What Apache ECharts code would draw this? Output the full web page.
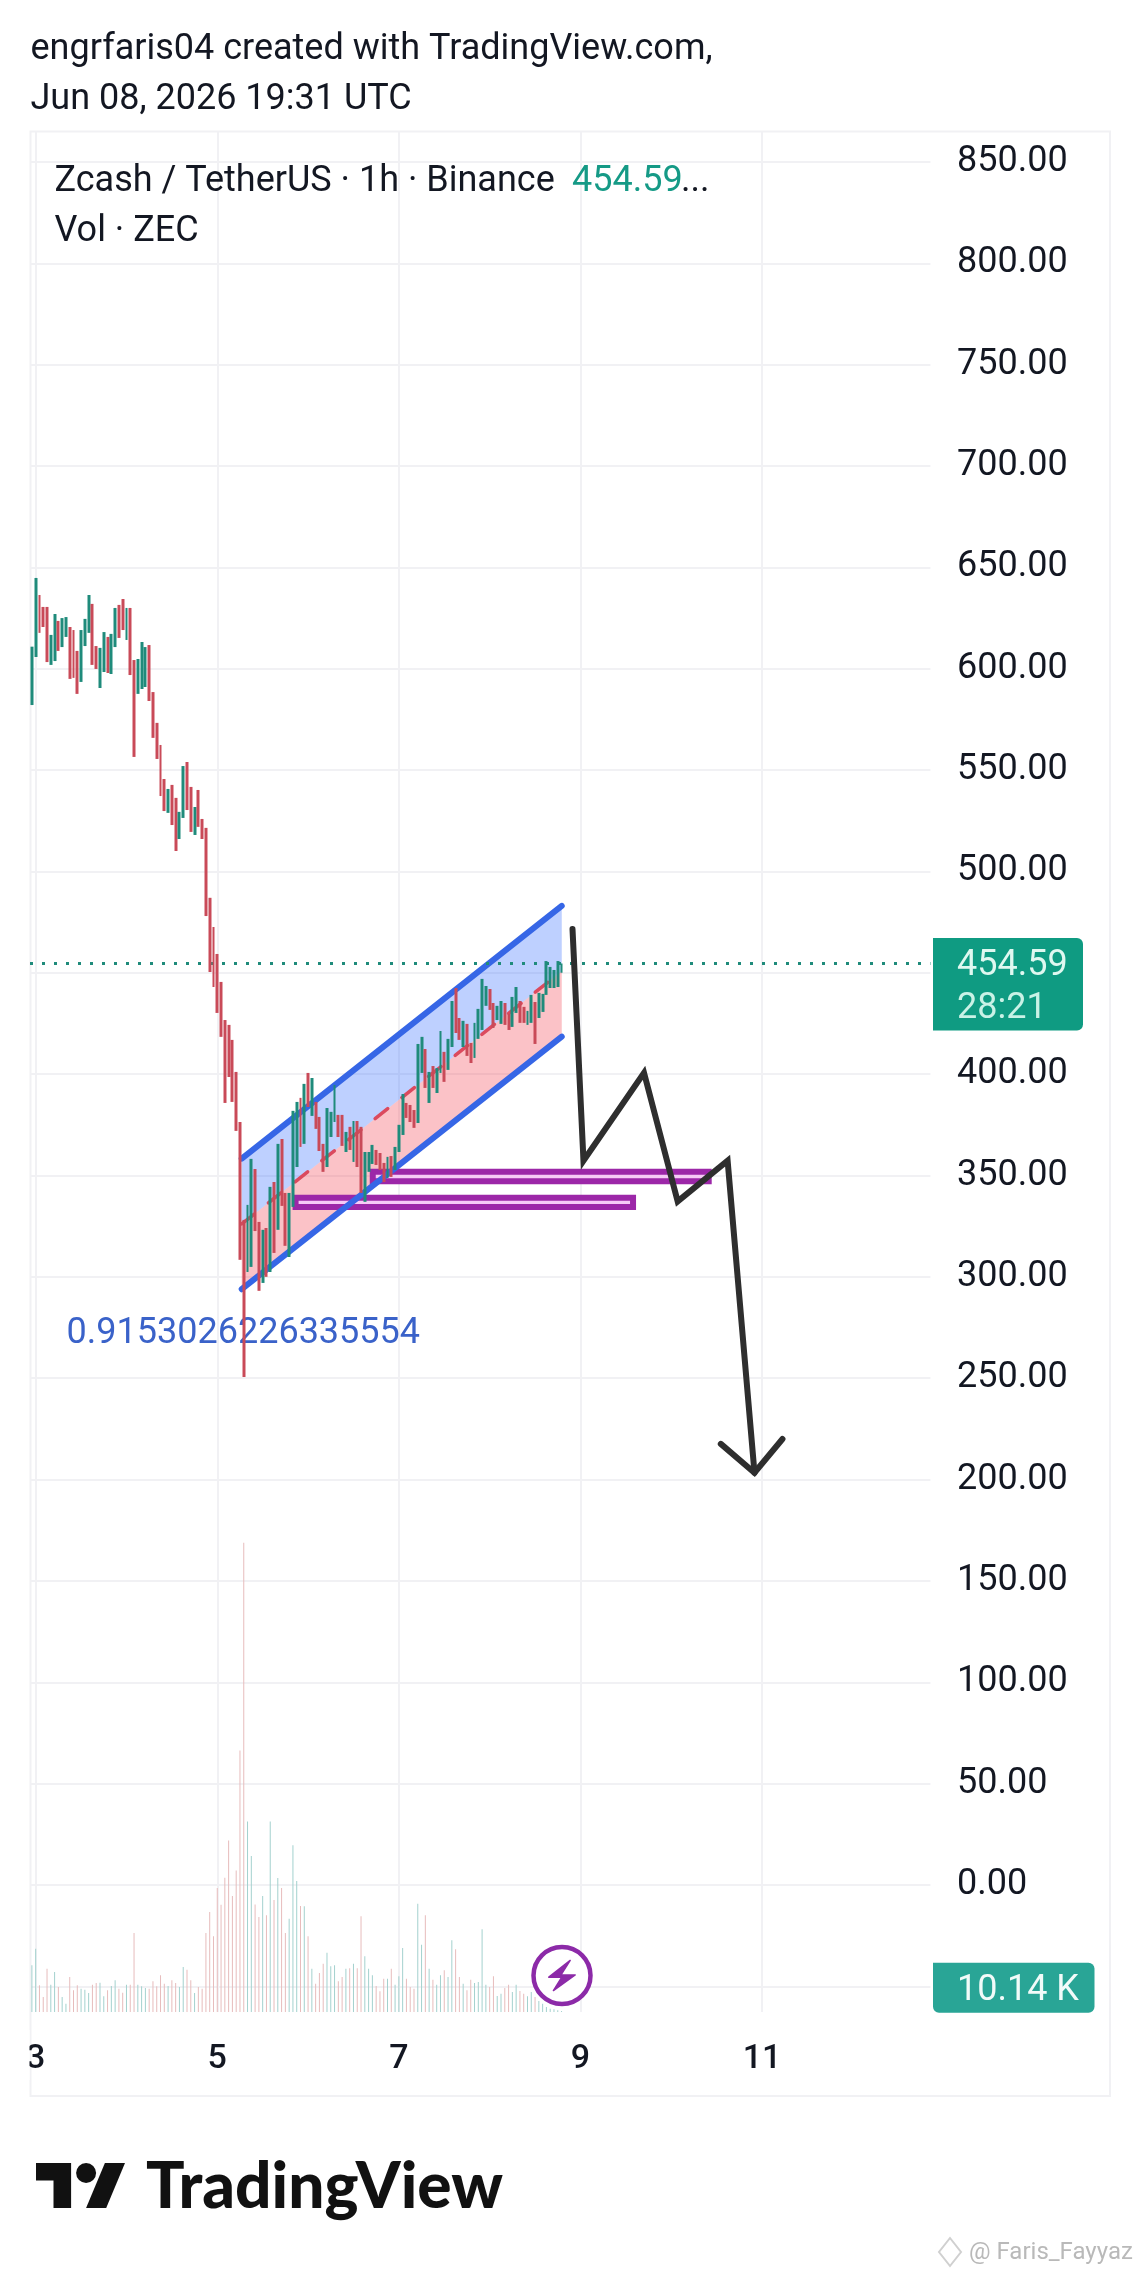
<!DOCTYPE html>
<html>
<head>
<meta charset="utf-8">
<style>html,body{margin:0;padding:0;background:#fff}#c{width:1140px;height:2277px}</style>
<script src="https://cdn.jsdelivr.net/npm/echarts@6/dist/echarts.min.js"></script>
</head>
<body>
<div id="c"></div>
<script>
// ---- DATA ----
const highs = [610.9,644.8,636.4,630.5,630.5,616.7,627,623.6,625,625.5,620.6,619.1,608.8,619.1,624.6,636.4,632,611.2,610.3,618.1,615.7,617.2,630,631.5,634.4,630,630,604.3,604.8,613.2,610.7,611.7,588.5,573.3,562.4,545.6,540.7,542.7,536.3,529.4,552,554,541.7,531.8,540.2,525.9,521.5,487,472.6,459.3,445.5,426.7,424.3,416.9,401.1,376.4,328.1,335.5,358.2,353.2,327.1,323.2,324.1,344.4,346.8,365.6,368,341.4,341.4,381.9,386.3,388.3,395.2,400.6,398.1,386.3,378.9,365.6,383.3,381.4,394.7,379.9,379.9,371.5,374,376.9,376.9,374,361.6,361.6,365.1,362.6,361.1,356.2,359.2,359.6,364.1,375,390.2,385.8,384.8,382.3,414.9,418.4,412.4,401.1,404,403,421.3,411,417.4,436.1,442.5,427.7,426.3,424.8,415.4,425.3,432.2,447,443.5,442,435.1,433.7,436.1,435.1,429.7,438.1,443,436.1,433.2,431.2,439.1,435.6,440.1,439.6,455.8,452.9,451.4,455.8,456];
const lows = [582.1,605.8,617.7,620.6,603.3,601.9,603.8,608.8,610.7,615.7,595,595.5,587.6,593.5,611.2,617.7,601.9,599.9,590.5,598.4,597.9,597.4,610.7,615.2,619.1,614.2,596.9,556.5,587.6,590,591,584.1,565.9,555.5,537.2,529.8,528.9,522.9,510.1,516,526.4,530.3,519.5,518,522,516,478,450.4,443,430.2,418.4,385.8,398.6,386.3,372,308.4,250.6,302.4,304.9,322.6,293.1,297,300,302.4,311.8,323.2,335,315.3,309.8,334.5,354.2,364.1,365.6,383.8,379.4,373,362.1,351.8,354.2,369,376.4,369,364.6,361.6,362.6,356.7,354.2,341.4,337,351.8,355.7,355.2,352.7,346.8,348.8,349.3,352.7,361.6,370,378.4,376.4,373.5,375.9,400.6,393.2,385.8,393.2,390.7,400.6,396.2,402.1,413.4,420.3,416.9,413.4,409,405.5,408,417.4,421.8,433.7,431.7,422.8,426.7,424.8,424.3,421.8,423.3,430.2,425.3,425.3,424.3,425.3,414.9,427.7,430.7,439.1,442.5,442.5,443,450];
const directions = "ggrrrggrggrrrgggrrggrggrrgrrgggrrrrrgrrggrrgrrrrrrrrrrrrrggrrgrgrgrrgggrgrgrrrgggrrgrgrrgggrrrgrgggrrrggrgrggrggrrgrrggggrrggrrggrrggrggggggg";
const volumesK = [467,633,267,150,433,273,400,250,150,83,350,217,267,233,223,190,273,290,293,157,217,260,317,233,193,273,273,790,273,257,240,233,307,257,367,283,260,317,290,250,450,423,317,190,250,233,790,1000,757,1240,1073,1343,1714,1160,1416,2614,4692,1906,1561,1075,949,1160,968,1906,1121,1339,1240,790,933,1667,1310,1060,1057,757,433,283,390,483,593,457,467,307,350,433,437,483,437,957,557,433,367,260,207,333,333,433,273,357,640,333,250,233,1083,673,967,433,323,273,367,417,350,717,627,350,283,217,323,290,300,827,273,250,357,160,183,240,273,200,273,210,183,157,200,150,110,83,50,33,27,17,10.14];
const lastClose = 454.59;
const priceTicksMin = -50, priceTickStep = 50, priceAxisMax = 865;
const barSlots = 238;
const dayTicks = {1:'3',49:'5',97:'7',145:'9',193:'11'};

// drawings: [bar index, price]
const channelUpper = [[55.46,358.3],[140.05,483]];
const channelLower = [[55.46,293.9],[140.05,418.5]];
const channelMid   = [[55.46,326.1],[140.05,450.75]];
const zonePurpleA  = [[90.1,351.9],[178.9,351.9],[178.9,347.2],[90.1,347.2]];
const zonePurpleB  = [[69.7,339],[158.9,339],[158.9,334.4],[69.7,334.4]];
const zigzag = [[142.9,471.6],[145.8,357.3],[161.8,400.7],[170.7,337.2],[183.9,357.3],[191,203.4]];
const arrowHead = [[182.1,217.6],[191,203.4],[198.4,220]];
const ratioLabel = [[9.17,273.3,'0.9153026226335554']];

// ---- STYLE ----
const RED='#c94a58', GREEN='#1f8b7b', FONT='Roboto', INK='#131722', GRID='#f1f1f4';
const gridLeft=30, gridWidth=900.4, paneTop=131.6, priceBottom=1986.3, volBottom=2012;

const categories = Array.from({length:barSlots},(_,i)=>dayTicks[i]||String(i));
const candleData = highs.map((h,i)=>{
  const up = directions[i]==='g';
  let open = up?lows[i]:h, close = up?h:lows[i];
  if(i===highs.length-1) close = lastClose;
  return [open,close,lows[i],h];
});
const volData = volumesK.map((v,i)=>({value:v,itemStyle:{color:directions[i]==='g'?'#a3d1ce':'#e7bcbc'}}));

function polygonSeries(points, style, z){
  return {type:'custom',coordinateSystem:'cartesian2d',xAxisIndex:2,yAxisIndex:0,z,silent:true,clip:false,
    data:points,
    renderItem(params,api){
      if(params.dataIndex!==points.length-1) return null;
      return {type:'polygon',shape:{points:points.map(p=>api.coord(p))},style};
    }};
}
function polyline(points,color,width,z,type,cap){
  return {type:'line',xAxisIndex:2,yAxisIndex:0,data:points,showSymbol:false,symbol:'none',z,silent:true,clip:false,animation:false,
    lineStyle:{color,width,cap:cap||'round',join:'miter',type:type||'solid'}};
}

const tx=(text,x,y,size,fill,extra)=>({type:'text',z:20,silent:true,style:Object.assign({text,x,y,fill,
  font:`${(extra&&extra.weight)||400} ${size}px ${(extra&&extra.family)||FONT}`,verticalAlign:'middle',align:'left'},extra&&extra.style)});

const graphic=[
  {type:'rect',z:0,silent:true,shape:{x:30.5,y:131.5,width:1079.5,height:1964.5},style:{fill:'none',stroke:'#f1f1f4',lineWidth:2}},
  {type:'rect',z:19,silent:true,shape:{x:0,y:2030,width:29.5,height:50},style:{fill:'#fff'}},
  tx('engrfaris04 created with TradingView.com,',30.5,50,36,INK),
  tx('Jun 08, 2026 19:31 UTC',30.5,100,36,INK),
  tx('Zcash / TetherUS · 1h · Binance',54.5,181.5,36,INK),
  tx('454.59',572,181.5,36,'#159a86'),
  tx('...',681,181.5,36,INK),
  tx('Vol · ZEC',54.5,231.5,36,INK),
  {type:'rect',z:18,silent:true,shape:{x:933,y:938,width:150,height:92.5,r:[0,6,6,0]},style:{fill:'#0f9b82'}},
  tx('454.59',957,966,36,'#dff8f0'),
  tx('28:21',957,1009,36,'#c9f2e6'),
  {type:'rect',z:18,silent:true,shape:{x:933,y:1962.7,width:161.5,height:50,r:[0,6,6,6]},style:{fill:'#29a596'}},
  tx('10.14 K',957,1991,36,'#f2fbf9'),
  {type:'circle',z:18,silent:true,shape:{cx:562,cy:1975.5,r:28.5},style:{fill:'#fff',stroke:'#8c2aa8',lineWidth:4.5}},
  {type:'polygon',z:19,silent:true,shape:{points:[[570.2,1960.4],[548.8,1977.2],[561.8,1977.2],[553.4,1990.6],[575.2,1974.9],[561,1974.9]]},style:{fill:'#8c2aa8',stroke:'#8c2aa8',lineWidth:1.5,lineJoin:'round'}},
  {type:'polygon',z:20,silent:true,shape:{points:[[36,2163],[71.1,2163],[71.1,2208],[53.5,2208],[53.5,2180.5],[36,2180.5]]},style:{fill:'#111'}},
  {type:'polygon',z:20,silent:true,shape:{points:[[104.9,2163],[125,2163],[106.2,2208],[86.1,2208]]},style:{fill:'#111'}},
  {type:'circle',z:20,silent:true,shape:{cx:86.1,cy:2173,r:10},style:{fill:'#111'}},
  tx('TradingView',146,2187,64,'#111',{weight:900,family:'Lato'}),
  {type:'polygon',z:20,silent:true,shape:{points:[[950,2238],[961,2252],[950,2266],[939,2252]]},style:{fill:'none',stroke:'#d0d0d0',lineWidth:2}},
  tx('@ Faris_Fayyaz',969,2253,24,'#b9b9b9')
];

const option={
  animation:false,
  backgroundColor:'#fff',
  textStyle:{fontFamily:FONT},
  grid:[
    {left:gridLeft,width:gridWidth,top:paneTop,height:priceBottom-paneTop},
    {left:gridLeft,width:gridWidth,top:paneTop,height:volBottom-paneTop}
  ],
  xAxis:[
    {type:'category',gridIndex:1,data:categories,boundaryGap:true,
      axisLine:{show:false},axisTick:{show:false},
      axisLabel:{interval:i=>i in dayTicks,formatter:(v,i)=>dayTicks[i]||'',fontFamily:FONT,fontSize:34,fontWeight:500,color:INK,margin:30},
      splitLine:{show:true,alignWithLabel:true,interval:i=>i in dayTicks,lineStyle:{color:GRID,width:2}}},
    {type:'category',gridIndex:0,data:categories,show:false},
    {type:'value',gridIndex:0,min:-0.5,max:barSlots-0.5,show:false,splitLine:{show:false}}
  ],
  yAxis:[
    {type:'value',gridIndex:0,position:'right',min:priceTicksMin,max:priceAxisMax,interval:priceTickStep,
      axisLine:{show:false},axisTick:{show:false},
      axisLabel:{margin:26.6,padding:[7,0,0,0],fontFamily:FONT,fontSize:36,color:INK,showMinLabel:false,showMaxLabel:false,
        formatter:v=>(v<0||v>850)?'':v.toFixed(2)},
      splitLine:{show:true,showMaxLine:false,lineStyle:{color:GRID,width:2}}},
    {type:'value',gridIndex:1,min:0,max:18804,show:false,splitLine:{show:false}}
  ],
  graphic,
  series:[
    {type:'bar',xAxisIndex:0,yAxisIndex:1,data:volData,barWidth:1,z:1,silent:true},
    polygonSeries([channelUpper[0],channelUpper[1],channelMid[1],channelMid[0]],{fill:'rgba(41,98,255,0.3)'},2),
    polygonSeries([channelMid[0],channelMid[1],channelLower[1],channelLower[0]],{fill:'rgba(242,54,69,0.3)'},2),
    {type:'custom',xAxisIndex:2,yAxisIndex:0,z:3,silent:true,clip:false,data:ratioLabel,
      renderItem(params,api){
        const c=api.coord([api.value(0),api.value(1)]);
        return {type:'text',style:{text:ratioLabel[params.dataIndex][2],x:c[0],y:c[1]+3,fill:'#3a62c9',font:'400 36px Roboto',verticalAlign:'middle',align:'left'}};
      }},
    polygonSeries(zonePurpleA,{fill:'#f6caf6',stroke:'#9c27a8',lineWidth:6},4),
    polygonSeries(zonePurpleB,{fill:'#f6caf6',stroke:'#9c27a8',lineWidth:6},4),
    polyline(channelUpper,'#3666e6',6,5),
    polyline(channelLower,'#3666e6',6,5),
    polyline(channelMid,'#db4a5e',3.5,5,[16,18]),
    polyline([[-0.5,lastClose],[barSlots-0.5,lastClose]],GREEN,3,6,[3,9],'butt'),
    {type:'candlestick',xAxisIndex:1,yAxisIndex:0,data:candleData,barWidth:3.4,z:7,silent:true,
      itemStyle:{color:GREEN,color0:RED,borderColor:GREEN,borderColor0:RED,borderWidth:0}},
    polyline(zigzag,'#2e2e2e',6,8),
    polyline(arrowHead,'#2e2e2e',6,8)
  ]
};
const chart=echarts.init(document.getElementById('c'),null,{renderer:'canvas',width:1140,height:2277,devicePixelRatio:1});
chart.setOption(option);
</script>
</body>
</html>
